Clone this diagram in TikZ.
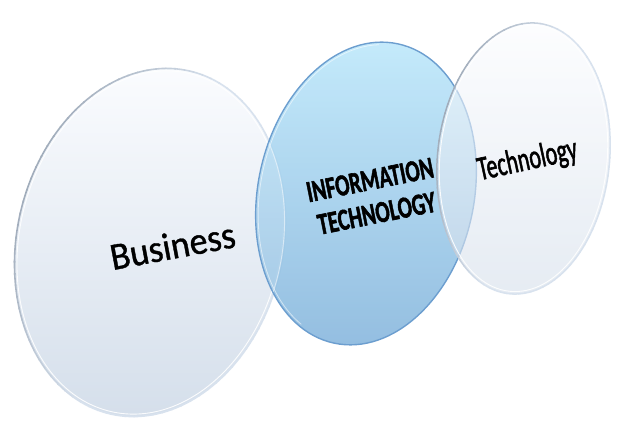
\documentclass[tikz,border=0pt]{standalone}
\usepackage{fontspec}
\setmainfont{Carlito}
\definecolor{bizTop}{HTML}{FCFDFF}
\definecolor{bizMid}{HTML}{EEF3FA}
\definecolor{bizBot}{HTML}{D5DFEB}
\definecolor{rimDark}{HTML}{97A3B2}
\definecolor{rimLight}{HTML}{D8E2EE}
\definecolor{itTop}{HTML}{BEE9FC}
\definecolor{itMid}{HTML}{A3D3F2}
\definecolor{itBot}{HTML}{86B6DD}
\definecolor{itRim}{HTML}{6C9ECF}
\tikzset{
  disclabel/.style={inner sep=0pt, text=black},
  bizdisc/.style={shift={(150,195.5)}, rotate=-13},
  itdisc/.style={shift={(366,244.5)}, rotate=-12},
  techdisc/.style={shift={(523.5,279.5)}, rotate=-6},
}
\begin{document}
\begin{tikzpicture}[x=1pt,y=1pt]
\useasboundingbox (0,0) rectangle (631,438);
\fill[white] (0,0) rectangle (631,438);

% ---------- Business disc ----------
\begin{scope}[bizdisc]
  \shade[top color=bizTop, middle color=bizMid, bottom color=bizBot]
    (0,0) ellipse [x radius=133, y radius=176];
  \foreach \a in {0,4,...,356}{
    \pgfmathsetmacro\k{max(0,cos(\a-165))*85}
    \draw[draw=rimDark!\k!rimLight, line width=1.6pt]
      (\a:133 and 176) arc[start angle=\a, end angle=\a+4.5, x radius=133, y radius=176];
  }
  \draw[white, line width=0.9pt, opacity=0.9] (0,0) ellipse [x radius=130.5, y radius=173.5];
\end{scope}

% ---------- Information Technology disc ----------
\begin{scope}[itdisc]
  \shade[top color=itTop, middle color=itMid, bottom color=itBot, fill opacity=0.88]
    (0,0) ellipse [x radius=108, y radius=153];
  \draw[itRim, line width=1.4pt] (0,0) ellipse [x radius=108, y radius=153];
  \draw[white, line width=0.8pt, opacity=0.55]
    (100:105.5 and 150.5) arc[start angle=100, end angle=250, x radius=105.5, y radius=150.5];
\end{scope}

% glassy overlap of Business seen through the blue disc
\begin{scope}
  \clip[itdisc] (0,0) ellipse [x radius=107.3, y radius=152.3];
  \fill[white, fill opacity=0.16, bizdisc] (0,0) ellipse [x radius=133, y radius=176];
  \draw[white, line width=0.9pt, opacity=0.5, bizdisc] (0,0) ellipse [x radius=132, y radius=175];
\end{scope}

% ---------- Technology disc ----------
\begin{scope}[techdisc]
  \shade[top color=bizTop, middle color=bizMid, bottom color=bizBot, fill opacity=0.6]
    (0,0) ellipse [x radius=86, y radius=136];
  \foreach \a in {0,4,...,356}{
    \pgfmathsetmacro\k{max(0,cos(\a-160))*85}
    \draw[draw=rimDark!\k!rimLight, line width=1.5pt]
      (\a:86 and 136) arc[start angle=\a, end angle=\a+4.5, x radius=86, y radius=136];
  }
  \draw[white, line width=0.9pt, opacity=0.9] (0,0) ellipse [x radius=83.5, y radius=133.5];
\end{scope}

% ---------- Labels ----------
\node[disclabel, font=\fontsize{38.5}{40}\selectfont\addfontfeatures{FakeBold=1}, rotate=10.6, xscale=0.94, anchor=base]
  (business) at (175,179.5) {Business};
\node[disclabel, font=\fontsize{30.5}{34}\selectfont\bfseries\addfontfeatures{FakeBold=2}, align=center, rotate=11.3, xscale=0.69]
  (infotech) at (373.3,241.4) {INFORMATION\\TECHNOLOGY};
\node[disclabel, font=\fontsize{34}{36}\selectfont\addfontfeatures{FakeBold=2}, rotate=12.2, xscale=0.65, anchor=base]
  (technology) at (529.5,268.5) {Technology};
\end{tikzpicture}
\end{document}
